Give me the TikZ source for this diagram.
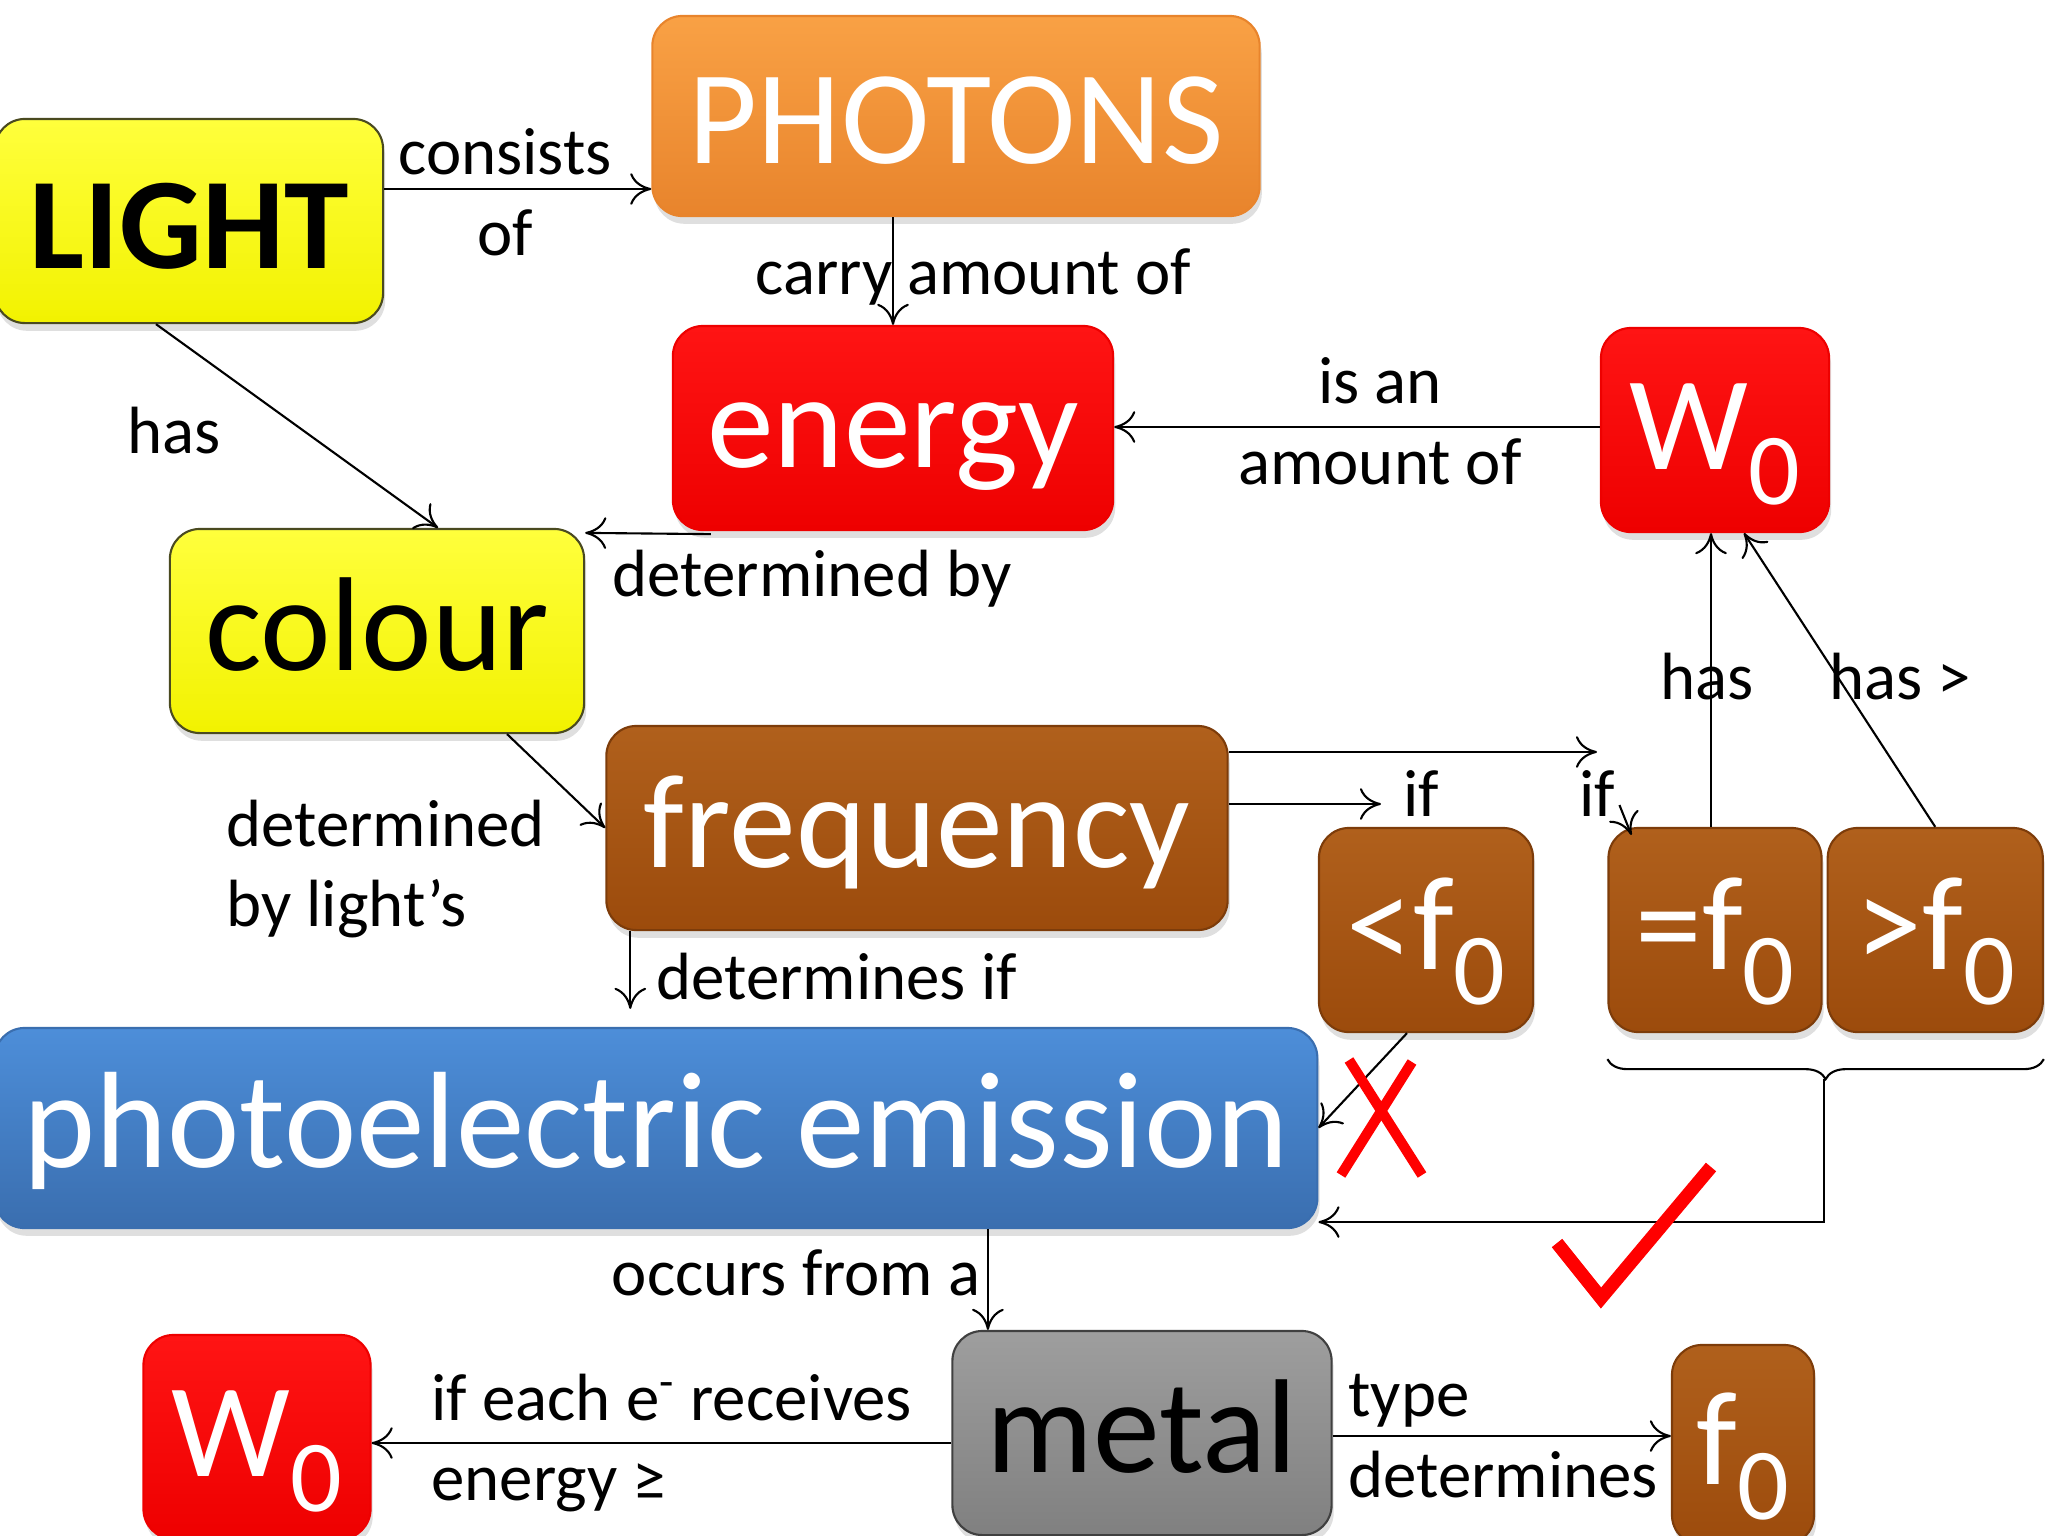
\documentclass[tikz,border=0pt]{standalone}
\usepackage{fontspec}
\setmainfont{Carlito}
\usepackage{tikz}
\usetikzlibrary{arrows.meta,positioning,shadows,decorations.pathreplacing}

\definecolor{yelTop}{HTML}{FFFF3C}
\definecolor{yelBot}{HTML}{F2F200}
\definecolor{yelEdge}{HTML}{4A4A20}
\definecolor{orgTop}{HTML}{F9A145}
\definecolor{orgBot}{HTML}{E8842C}
\definecolor{redTop}{HTML}{FF1414}
\definecolor{redBot}{HTML}{EE0000}
\definecolor{brnTop}{HTML}{B0601C}
\definecolor{brnBot}{HTML}{9C4B0C}
\definecolor{bluTop}{HTML}{4D8ED9}
\definecolor{bluBot}{HTML}{3A6EAF}
\definecolor{gryTop}{HTML}{9E9E9E}
\definecolor{gryBot}{HTML}{808080}

\newcommand{\lowsub}[1]{\raisebox{-0.26em}{\fontsize{29}{29}\selectfont #1}}

\begin{document}
\begin{tikzpicture}[x=0.01cm,y=-0.01cm,>={To[length=6pt,width=9pt]},line width=0.6pt,
	concept/.style={rounded corners=3mm,minimum height=2.04cm,inner sep=0pt,
		text height=30pt,text depth=7.6pt,
		font=\fontsize{38}{40}\selectfont,
		drop shadow={opacity=0.25,shadow xshift=0.6pt,shadow yshift=-2.2pt}},
	yellowbox/.style={concept,top color=yelTop,bottom color=yelBot,draw=yelEdge,text=black},
	orangebox/.style={concept,top color=orgTop,bottom color=orgBot,draw=orgBot,text=white},
	redbox/.style={concept,top color=redTop,bottom color=redBot,draw=redBot,text=white},
	brownbox/.style={concept,top color=brnTop,bottom color=brnBot,draw=brnBot!80!black,text=white},
	bluebox/.style={concept,top color=bluTop,bottom color=bluBot,draw=bluBot,text=white},
	greybox/.style={concept,top color=gryTop,bottom color=gryBot,draw=black!75,text=black},
	lbl/.style={font=\fontsize{19}{23}\selectfont,inner sep=1pt},
	tick/.style={red,line cap=butt}]
	\useasboundingbox (0,0) rectangle (2048,1536);

	% concepts
	\node[yellowbox,minimum width=3.88cm,text depth=3pt,font=\fontsize{37}{40}\selectfont\bfseries] (light) at (189,221) {LIGHT};
	\node[orangebox,minimum width=6.07cm,minimum height=2cm,text depth=3pt] (photons) at (956,116) {PHOTONS};
	\node[redbox,minimum width=4.4cm] (energy) at (893,428) {energy};
	\node[redbox,minimum width=2.28cm] (w_top) at (1715,430) {W\lowsub{0}};
	\node[yellowbox,minimum width=4.14cm] (colour) at (377,631) {colour};
	\node[brownbox,minimum width=6.21cm] (freq) at (917,828) {frequency};
	\node[brownbox,minimum width=2.14cm] (f_lt) at (1426,930) {<f\lowsub{0}};
	\node[brownbox,minimum width=2.13cm] (f_eq) at (1715,930) {=f\lowsub{0}};
	\node[brownbox,minimum width=2.15cm] (f_gt) [right=0.04cm of f_eq] {>f\lowsub{0}};
	\node[bluebox,minimum width=13.22cm,minimum height=2cm,font=\fontsize{39}{40}\selectfont] (pe) at (656,1128) {photoelectric emission};
	\node[redbox,minimum width=2.27cm] (w_bot) at (257,1437) {W\lowsub{0}};
	\node[greybox,minimum width=3.79cm] (metal) at (1142,1433) {metal};
	\node[brownbox,minimum width=1.42cm,minimum height=2cm] (f_0) at (1743,1445) {f\lowsub{0}};

	% linking phrases
	\node[lbl,align=center] (l_consists) at (505,192) {consists\\of};
	\node[lbl] (l_carry) at (973,277) {carry amount of};
	\node[lbl,align=center] (l_isan) at (1380,421) {is an\\amount of};
	\node[lbl] (l_has) at (174,431) {has};
	\node[lbl] (l_detby) at (812,579) {determined by};
	\node[lbl,align=left,anchor=west] (l_lights) at (222,869) {determined\\by light’s};
	\node[lbl] (if_lt) at (1421,794) {if};
	\node[lbl] (if_eq) at (1597,794) {if};
	\node[lbl] (l_haseq) at (1707,677) {has};
	\node[lbl] (l_hasgt) at (1900,677) {has >};
	\node[lbl,anchor=west] (l_detif) at (652,977) {determines if};
	\node[lbl,anchor=east] (l_occurs) at (985,1273) {occurs from a};
	\node[lbl,align=left,anchor=west] (l_each) at (427,1443) {if each e\textsuperscript{-} receives\\energy ≥};
	\node[lbl,align=left,anchor=west] (l_type) at (1344,1436) {type\\determines};

	% links
	\draw[->] ([yshift=3.2mm]light.east) -- ([yshift=3.2mm]light.east -| photons.west);
	\draw[->] (photons.south -| energy.north) -- (energy.north);
	\draw[->] ([yshift=0.3mm]w_top.west) -- ([yshift=0.3mm]w_top.west -| energy.east);
	\draw[->] ([xshift=-3.3mm]light.south) -- ([xshift=6.1mm]colour.north);
	\draw[->] ([xshift=3.9mm,yshift=-0.3mm]energy.south west) -- ([yshift=-0.5mm]colour.north east);
	\draw[->] ([xshift=13mm]colour.south) -- (freq.west);
	\draw[->,shorten >=5pt] ([yshift=2.4mm]freq.east) -- ([yshift=2.4mm]freq.east -| if_lt.west);
	\draw[->] ([yshift=7.6mm]freq.east) -- ([yshift=7.6mm]freq.east -| if_eq);
	\draw[->] ([yshift=-1.1mm]if_eq.east) -- ([xshift=2.4mm,yshift=-0.8mm]f_eq.north west);
	\draw[->] ([xshift=2.5mm]freq.south west) -- ([xshift=2.5mm,yshift=1.8mm]freq.south west |- pe.north);
	\draw[->] ([xshift=-1.9mm]f_lt.south) -- (pe.east);
	\draw[->] ([xshift=-0.4mm]f_eq.north) -- ([xshift=-0.4mm]w_top.south);
	\draw[->] (f_gt.north) -- ([xshift=2.9mm]w_top.south);

	% bracket under =f0 and >f0
	\draw[decorate,decoration={brace,mirror,amplitude=2mm}] ([yshift=-2.6mm]f_eq.south west) -- ([yshift=-2.6mm]f_gt.south east);
	\coordinate (br_tip) at (1824,1079);
	\draw[->] (br_tip) |- ([yshift=-9.4mm]pe.east);

	\draw[->] ([xshift=-15.4mm]metal.north |- pe.south) -- ([xshift=-15.4mm]metal.north);
	\draw[->] ([yshift=-1mm]metal.west) -- ([yshift=-1mm]metal.west -| w_bot.east);
	\draw[->] ([yshift=-0.3mm]metal.east) -- ([yshift=-0.3mm]metal.east -| f_0.west);

	% cross and tick
	\draw[tick,line width=2.9pt] (1349,1060) -- (1422,1175) (1412,1062) -- (1341,1175);
	\draw[tick,line width=3.8pt] (1557,1243) -- (1601,1298) -- (1711,1167);
\end{tikzpicture}
\end{document}
